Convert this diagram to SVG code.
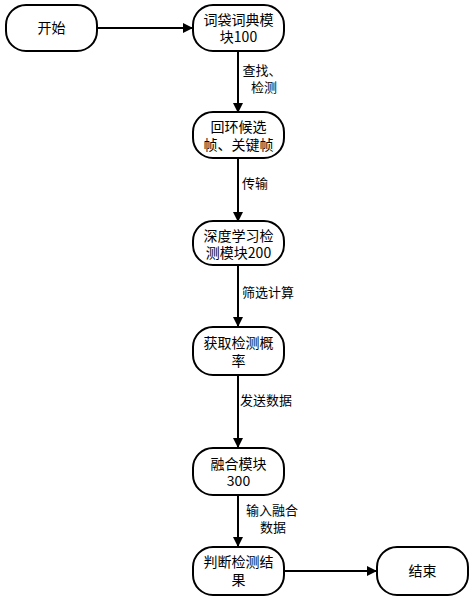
<svg xmlns="http://www.w3.org/2000/svg" width="474" height="600" viewBox="0 0 474 600">
<defs>
<marker id="arr" markerWidth="10" markerHeight="10" refX="9" refY="5" orient="auto" markerUnits="userSpaceOnUse" viewBox="0 0 10 10">
<path d="M0,0 L10,5 L0,10 Z" fill="#000"/>
</marker>
<style>
.box{fill:#fff;stroke:#000;stroke-width:2}
.t{font-family:"Noto Sans CJK SC","Noto Sans",sans-serif;font-size:14px;fill:#000;text-anchor:middle}
.l{font-family:"Noto Sans CJK SC","Noto Sans",sans-serif;font-size:13px;fill:#000;text-anchor:middle}
.c{stroke:#000;stroke-width:2;fill:none;marker-end:url(#arr)}
</style>
</defs>
<rect width="474" height="600" fill="#fff"/>
<g id="connectors">
<path class="c" d="M97,28 L192,28"/>
<path class="c" d="M238,51 L238,112"/>
<path class="c" d="M238,158 L238,221"/>
<path class="c" d="M238,265 L238,326"/>
<path class="c" d="M238,375 L238,447"/>
<path class="c" d="M238,495 L238,546"/>
<path class="c" d="M284,571 L376,571"/>
<text class="l" x="262" y="75">查找、</text>
<text class="l" x="264" y="92">检测</text>
<text class="l" x="255" y="188">传输</text>
<text class="l" x="268" y="297">筛选计算</text>
<text class="l" x="266" y="405">发送数据</text>
<text class="l" x="272" y="515">输入融合</text>
<text class="l" x="273" y="532">数据</text>
</g>
<g id="start"><rect class="box" x="6" y="5" width="91" height="46" rx="20"/><text class="t" x="51.5" y="33">开始</text></g>
<g id="n1"><rect class="box" x="193" y="5" width="91" height="46" rx="20"/><text class="t" x="238.5" y="25">词袋词典模</text><text class="t" x="238.5" y="42">块100</text></g>
<g id="n2"><rect class="box" x="193" y="112" width="91" height="46" rx="20"/><text class="t" x="238.5" y="132">回环候选</text><text class="t" x="238.5" y="150">帧、关键帧</text></g>
<g id="n3"><rect class="box" x="193" y="221" width="91" height="44" rx="20"/><text class="t" x="238.5" y="241">深度学习检</text><text class="t" x="238.5" y="258">测模块200</text></g>
<g id="n4"><rect class="box" x="193" y="327" width="91" height="48" rx="20"/><text class="t" x="238.5" y="348">获取检测概</text><text class="t" x="238.5" y="366">率</text></g>
<g id="n5"><rect class="box" x="193" y="448" width="91" height="47" rx="20"/><text class="t" x="238.5" y="469">融合模块</text><text class="t" x="238.5" y="486">300</text></g>
<g id="n6"><rect class="box" x="193" y="547" width="91" height="48" rx="20"/><text class="t" x="238.5" y="567">判断检测结</text><text class="t" x="238.5" y="585">果</text></g>
<g id="end"><rect class="box" x="377" y="547" width="91" height="48" rx="20"/><text class="t" x="422.5" y="576">结束</text></g>
</svg>
